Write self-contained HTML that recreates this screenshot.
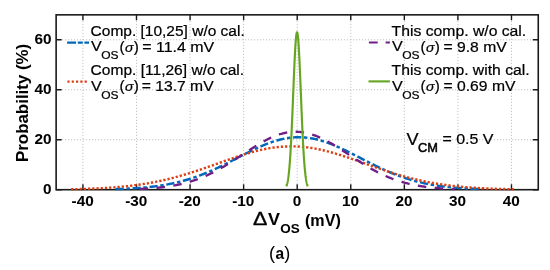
<!DOCTYPE html>
<html><head><meta charset="utf-8"><style>
html,body{margin:0;padding:0;background:#fff;}
svg{display:block;}
text{font-family:'Liberation Sans', Arial, sans-serif;fill:#000;stroke:#000;stroke-width:0.22px;}
text[font-weight="bold"]{stroke-width:0.05px;}
</style></head><body>
<svg width="550" height="270" viewBox="0 0 550 270">
<rect width="550" height="270" fill="#fff"/>
<path d="M82.92,14.84V189.70 M136.49,14.84V189.70 M190.06,14.84V189.70 M243.63,14.84V189.70 M297.20,14.84V189.70 M350.77,14.84V189.70 M404.34,14.84V189.70 M457.91,14.84V189.70 M511.48,14.84V189.70 M56.13,139.74H538.26 M56.13,89.78H538.26 M56.13,39.82H538.26" stroke="#b8b8b8" stroke-width="1" stroke-dasharray="1 2" fill="none"/>
<path d="M82.92,189.70v-5.5 M82.92,14.84v5.5 M136.49,189.70v-5.5 M136.49,14.84v5.5 M190.06,189.70v-5.5 M190.06,14.84v5.5 M243.63,189.70v-5.5 M243.63,14.84v5.5 M297.20,189.70v-5.5 M297.20,14.84v5.5 M350.77,189.70v-5.5 M350.77,14.84v5.5 M404.34,189.70v-5.5 M404.34,14.84v5.5 M457.91,189.70v-5.5 M457.91,14.84v5.5 M511.48,189.70v-5.5 M511.48,14.84v5.5 M56.13,189.70h5.5 M538.26,189.70h-5.5 M56.13,139.74h5.5 M538.26,139.74h-5.5 M56.13,89.78h5.5 M538.26,89.78h-5.5 M56.13,39.82h5.5 M538.26,39.82h-5.5" stroke="#1a1a1a" stroke-width="1.4" fill="none"/>
<rect x="56.13" y="14.84" width="482.13" height="174.86" stroke="#1a1a1a" stroke-width="1.6" fill="none"/>
<path d="M115.60,189.09 L116.51,189.07 L117.43,189.04 L118.35,189.01 L119.26,188.98 L120.18,188.94 L121.09,188.91 L122.01,188.88 L122.93,188.84 L123.84,188.80 L124.76,188.76 L125.67,188.72 L126.59,188.68 L127.51,188.64 L128.42,188.59 L129.34,188.55 L130.25,188.50 L131.17,188.45 L132.09,188.40 L133.00,188.34 L133.92,188.29 L134.83,188.23 L135.75,188.17 L136.67,188.11 L137.58,188.04 L138.50,187.98 L139.41,187.91 L140.33,187.84 L141.25,187.76 L142.16,187.69 L143.08,187.61 L144.00,187.53 L144.91,187.45 L145.83,187.36 L146.74,187.27 L147.66,187.18 L148.58,187.09 L149.49,186.99 L150.41,186.89 L151.32,186.79 L152.24,186.68 L153.16,186.57 L154.07,186.46 L154.99,186.34 L155.90,186.22 L156.82,186.10 L157.74,185.97 L158.65,185.84 L159.57,185.71 L160.48,185.57 L161.40,185.43 L162.32,185.29 L163.23,185.14 L164.15,184.99 L165.06,184.83 L165.98,184.67 L166.90,184.51 L167.81,184.34 L168.73,184.16 L169.64,183.99 L170.56,183.80 L171.48,183.62 L172.39,183.43 L173.31,183.23 L174.22,183.03 L175.14,182.83 L176.06,182.62 L176.97,182.40 L177.89,182.19 L178.80,181.96 L179.72,181.73 L180.64,181.50 L181.55,181.26 L182.47,181.02 L183.39,180.77 L184.30,180.52 L185.22,180.26 L186.13,179.99 L187.05,179.72 L187.97,179.45 L188.88,179.17 L189.80,178.89 L190.71,178.60 L191.63,178.30 L192.55,178.00 L193.46,177.70 L194.38,177.39 L195.29,177.07 L196.21,176.75 L197.13,176.42 L198.04,176.09 L198.96,175.76 L199.87,175.41 L200.79,175.07 L201.71,174.72 L202.62,174.36 L203.54,174.00 L204.45,173.63 L205.37,173.26 L206.29,172.88 L207.20,172.50 L208.12,172.12 L209.03,171.73 L209.95,171.33 L210.87,170.93 L211.78,170.53 L212.70,170.12 L213.61,169.71 L214.53,169.29 L215.45,168.87 L216.36,168.44 L217.28,168.01 L218.19,167.58 L219.11,167.15 L220.03,166.71 L220.94,166.26 L221.86,165.82 L222.78,165.37 L223.69,164.92 L224.61,164.46 L225.52,164.01 L226.44,163.55 L227.36,163.08 L228.27,162.62 L229.19,162.15 L230.10,161.69 L231.02,161.22 L231.94,160.75 L232.85,160.27 L233.77,159.80 L234.68,159.33 L235.60,158.85 L236.52,158.38 L237.43,157.90 L238.35,157.43 L239.26,156.95 L240.18,156.48 L241.10,156.00 L242.01,155.53 L242.93,155.06 L243.84,154.59 L244.76,154.12 L245.68,153.65 L246.59,153.19 L247.51,152.72 L248.42,152.26 L249.34,151.80 L250.26,151.35 L251.17,150.90 L252.09,150.45 L253.00,150.01 L253.92,149.56 L254.84,149.13 L255.75,148.70 L256.67,148.27 L257.58,147.85 L258.50,147.43 L259.42,147.02 L260.33,146.61 L261.25,146.21 L262.17,145.81 L263.08,145.43 L264.00,145.04 L264.91,144.67 L265.83,144.30 L266.75,143.94 L267.66,143.59 L268.58,143.24 L269.49,142.90 L270.41,142.57 L271.33,142.25 L272.24,141.94 L273.16,141.63 L274.07,141.34 L274.99,141.05 L275.91,140.77 L276.82,140.51 L277.74,140.25 L278.65,140.00 L279.57,139.76 L280.49,139.53 L281.40,139.31 L282.32,139.10 L283.23,138.91 L284.15,138.72 L285.07,138.54 L285.98,138.38 L286.90,138.22 L287.81,138.08 L288.73,137.95 L289.65,137.82 L290.56,137.71 L291.48,137.62 L292.39,137.53 L293.31,137.45 L294.23,137.39 L295.14,137.34 L296.06,137.29 L296.98,137.27 L297.89,137.25 L298.81,137.24 L299.72,137.25 L300.64,137.27 L301.56,137.29 L302.47,137.34 L303.39,137.39 L304.30,137.45 L305.22,137.53 L306.14,137.62 L307.05,137.71 L307.97,137.82 L308.88,137.95 L309.80,138.08 L310.72,138.22 L311.63,138.38 L312.55,138.54 L313.46,138.72 L314.38,138.91 L315.30,139.10 L316.21,139.31 L317.13,139.53 L318.04,139.76 L318.96,140.00 L319.88,140.25 L320.79,140.51 L321.71,140.77 L322.62,141.05 L323.54,141.34 L324.46,141.63 L325.37,141.94 L326.29,142.25 L327.20,142.57 L328.12,142.90 L329.04,143.24 L329.95,143.59 L330.87,143.94 L331.78,144.30 L332.70,144.67 L333.62,145.04 L334.53,145.43 L335.45,145.81 L336.37,146.21 L337.28,146.61 L338.20,147.02 L339.11,147.43 L340.03,147.85 L340.95,148.27 L341.86,148.70 L342.78,149.13 L343.69,149.56 L344.61,150.01 L345.53,150.45 L346.44,150.90 L347.36,151.35 L348.27,151.80 L349.19,152.26 L350.11,152.72 L351.02,153.19 L351.94,153.65 L352.85,154.12 L353.77,154.59 L354.69,155.06 L355.60,155.53 L356.52,156.00 L357.43,156.48 L358.35,156.95 L359.27,157.43 L360.18,157.90 L361.10,158.38 L362.01,158.85 L362.93,159.33 L363.85,159.80 L364.76,160.27 L365.68,160.75 L366.59,161.22 L367.51,161.69 L368.43,162.15 L369.34,162.62 L370.26,163.08 L371.17,163.55 L372.09,164.01 L373.01,164.46 L373.92,164.92 L374.84,165.37 L375.76,165.82 L376.67,166.26 L377.59,166.71 L378.50,167.15 L379.42,167.58 L380.34,168.01 L381.25,168.44 L382.17,168.87 L383.08,169.29 L384.00,169.71 L384.92,170.12 L385.83,170.53 L386.75,170.93 L387.66,171.33 L388.58,171.73 L389.50,172.12 L390.41,172.50 L391.33,172.88 L392.24,173.26 L393.16,173.63 L394.08,174.00 L394.99,174.36 L395.91,174.72 L396.82,175.07 L397.74,175.41 L398.66,175.76 L399.57,176.09 L400.49,176.42 L401.40,176.75 L402.32,177.07 L403.24,177.39 L404.15,177.70 L405.07,178.00 L405.98,178.30 L406.90,178.60 L407.82,178.89 L408.73,179.17 L409.65,179.45 L410.56,179.72 L411.48,179.99 L412.40,180.26 L413.31,180.52 L414.23,180.77 L415.15,181.02 L416.06,181.26 L416.98,181.50 L417.89,181.73 L418.81,181.96 L419.73,182.19 L420.64,182.40 L421.56,182.62 L422.47,182.83 L423.39,183.03 L424.31,183.23 L425.22,183.43 L426.14,183.62 L427.05,183.80 L427.97,183.99 L428.89,184.16 L429.80,184.34 L430.72,184.51 L431.63,184.67 L432.55,184.83 L433.47,184.99 L434.38,185.14 L435.30,185.29 L436.21,185.43 L437.13,185.57 L438.05,185.71 L438.96,185.84 L439.88,185.97 L440.79,186.10 L441.71,186.22 L442.63,186.34 L443.54,186.46 L444.46,186.57 L445.37,186.68 L446.29,186.79 L447.21,186.89 L448.12,186.99 L449.04,187.09 L449.95,187.18 L450.87,187.27 L451.79,187.36 L452.70,187.45 L453.62,187.53 L454.54,187.61 L455.45,187.69 L456.37,187.76 L457.28,187.84 L458.20,187.91 L459.12,187.98 L460.03,188.04 L460.95,188.11 L461.86,188.17 L462.78,188.23 L463.70,188.29 L464.61,188.34 L465.53,188.40 L466.44,188.45 L467.36,188.50 L468.28,188.55 L469.19,188.59 L470.11,188.64 L471.02,188.68 L471.94,188.72 L472.86,188.76 L473.77,188.80 L474.69,188.84 L475.60,188.88 L476.52,188.91 L477.44,188.94 L478.35,188.98 L479.27,189.01 L480.18,189.04 L481.10,189.07 L482.02,189.09" stroke="#0068BA" stroke-width="2.45" fill="none" stroke-dasharray="8.15 2.7 3.45 2.7" stroke-linecap="butt" stroke-linejoin="round"/>
<path d="M71.13,189.22 L72.24,189.20 L73.35,189.17 L74.46,189.15 L75.57,189.12 L76.68,189.10 L77.79,189.07 L78.90,189.04 L80.01,189.01 L81.12,188.98 L82.23,188.95 L83.34,188.92 L84.45,188.88 L85.56,188.85 L86.67,188.81 L87.78,188.77 L88.89,188.73 L90.00,188.69 L91.11,188.65 L92.22,188.61 L93.33,188.56 L94.44,188.51 L95.55,188.46 L96.65,188.41 L97.76,188.36 L98.87,188.31 L99.98,188.25 L101.09,188.19 L102.20,188.13 L103.31,188.07 L104.42,188.01 L105.53,187.94 L106.64,187.87 L107.75,187.80 L108.86,187.73 L109.97,187.65 L111.08,187.57 L112.19,187.49 L113.30,187.41 L114.41,187.33 L115.52,187.24 L116.63,187.15 L117.74,187.06 L118.85,186.96 L119.96,186.86 L121.07,186.76 L122.17,186.65 L123.28,186.55 L124.39,186.44 L125.50,186.32 L126.61,186.21 L127.72,186.09 L128.83,185.96 L129.94,185.84 L131.05,185.71 L132.16,185.57 L133.27,185.43 L134.38,185.29 L135.49,185.15 L136.60,185.00 L137.71,184.85 L138.82,184.69 L139.93,184.54 L141.04,184.37 L142.15,184.21 L143.26,184.03 L144.37,183.86 L145.48,183.68 L146.59,183.50 L147.69,183.31 L148.80,183.12 L149.91,182.93 L151.02,182.73 L152.13,182.52 L153.24,182.31 L154.35,182.10 L155.46,181.89 L156.57,181.66 L157.68,181.44 L158.79,181.21 L159.90,180.98 L161.01,180.74 L162.12,180.49 L163.23,180.25 L164.34,180.00 L165.45,179.74 L166.56,179.48 L167.67,179.21 L168.78,178.95 L169.89,178.67 L171.00,178.39 L172.11,178.11 L173.21,177.82 L174.32,177.53 L175.43,177.24 L176.54,176.94 L177.65,176.63 L178.76,176.33 L179.87,176.01 L180.98,175.70 L182.09,175.38 L183.20,175.05 L184.31,174.73 L185.42,174.39 L186.53,174.06 L187.64,173.72 L188.75,173.38 L189.86,173.03 L190.97,172.68 L192.08,172.32 L193.19,171.97 L194.30,171.61 L195.41,171.25 L196.52,170.88 L197.63,170.51 L198.73,170.14 L199.84,169.76 L200.95,169.39 L202.06,169.01 L203.17,168.63 L204.28,168.24 L205.39,167.86 L206.50,167.47 L207.61,167.08 L208.72,166.69 L209.83,166.30 L210.94,165.90 L212.05,165.51 L213.16,165.11 L214.27,164.72 L215.38,164.32 L216.49,163.92 L217.60,163.53 L218.71,163.13 L219.82,162.73 L220.93,162.34 L222.04,161.94 L223.15,161.54 L224.26,161.15 L225.36,160.75 L226.47,160.36 L227.58,159.97 L228.69,159.58 L229.80,159.19 L230.91,158.81 L232.02,158.43 L233.13,158.04 L234.24,157.67 L235.35,157.29 L236.46,156.92 L237.57,156.55 L238.68,156.19 L239.79,155.82 L240.90,155.47 L242.01,155.11 L243.12,154.76 L244.23,154.42 L245.34,154.08 L246.45,153.75 L247.56,153.42 L248.67,153.09 L249.78,152.77 L250.88,152.46 L251.99,152.15 L253.10,151.85 L254.21,151.56 L255.32,151.27 L256.43,150.99 L257.54,150.71 L258.65,150.44 L259.76,150.18 L260.87,149.93 L261.98,149.69 L263.09,149.45 L264.20,149.22 L265.31,149.00 L266.42,148.78 L267.53,148.58 L268.64,148.38 L269.75,148.19 L270.86,148.01 L271.97,147.84 L273.08,147.68 L274.19,147.52 L275.30,147.38 L276.40,147.24 L277.51,147.12 L278.62,147.00 L279.73,146.90 L280.84,146.80 L281.95,146.71 L283.06,146.63 L284.17,146.56 L285.28,146.51 L286.39,146.46 L287.50,146.42 L288.61,146.39 L289.72,146.37 L290.83,146.36 L291.94,146.36 L293.05,146.37 L294.16,146.39 L295.27,146.42 L296.38,146.46 L297.49,146.51 L298.60,146.57 L299.71,146.64 L300.82,146.72 L301.92,146.81 L303.03,146.91 L304.14,147.02 L305.25,147.14 L306.36,147.26 L307.47,147.40 L308.58,147.54 L309.69,147.70 L310.80,147.86 L311.91,148.03 L313.02,148.22 L314.13,148.41 L315.24,148.60 L316.35,148.81 L317.46,149.03 L318.57,149.25 L319.68,149.48 L320.79,149.72 L321.90,149.97 L323.01,150.22 L324.12,150.48 L325.23,150.75 L326.34,151.03 L327.44,151.31 L328.55,151.60 L329.66,151.89 L330.77,152.19 L331.88,152.50 L332.99,152.82 L334.10,153.14 L335.21,153.46 L336.32,153.79 L337.43,154.13 L338.54,154.47 L339.65,154.81 L340.76,155.16 L341.87,155.52 L342.98,155.87 L344.09,156.24 L345.20,156.60 L346.31,156.97 L347.42,157.34 L348.53,157.72 L349.64,158.10 L350.75,158.48 L351.86,158.86 L352.97,159.25 L354.07,159.64 L355.18,160.02 L356.29,160.42 L357.40,160.81 L358.51,161.20 L359.62,161.60 L360.73,161.99 L361.84,162.39 L362.95,162.79 L364.06,163.18 L365.17,163.58 L366.28,163.98 L367.39,164.38 L368.50,164.77 L369.61,165.17 L370.72,165.56 L371.83,165.96 L372.94,166.35 L374.05,166.74 L375.16,167.13 L376.27,167.52 L377.38,167.91 L378.49,168.30 L379.59,168.68 L380.70,169.06 L381.81,169.44 L382.92,169.82 L384.03,170.19 L385.14,170.56 L386.25,170.93 L387.36,171.30 L388.47,171.66 L389.58,172.02 L390.69,172.37 L391.80,172.73 L392.91,173.08 L394.02,173.42 L395.13,173.77 L396.24,174.10 L397.35,174.44 L398.46,174.77 L399.57,175.10 L400.68,175.42 L401.79,175.74 L402.90,176.06 L404.01,176.37 L405.11,176.68 L406.22,176.98 L407.33,177.28 L408.44,177.57 L409.55,177.86 L410.66,178.15 L411.77,178.43 L412.88,178.71 L413.99,178.98 L415.10,179.25 L416.21,179.52 L417.32,179.78 L418.43,180.03 L419.54,180.28 L420.65,180.53 L421.76,180.77 L422.87,181.01 L423.98,181.24 L425.09,181.47 L426.20,181.70 L427.31,181.92 L428.42,182.13 L429.53,182.34 L430.63,182.55 L431.74,182.75 L432.85,182.95 L433.96,183.15 L435.07,183.34 L436.18,183.52 L437.29,183.71 L438.40,183.88 L439.51,184.06 L440.62,184.23 L441.73,184.40 L442.84,184.56 L443.95,184.72 L445.06,184.87 L446.17,185.02 L447.28,185.17 L448.39,185.31 L449.50,185.45 L450.61,185.59 L451.72,185.72 L452.83,185.85 L453.94,185.98 L455.05,186.10 L456.15,186.22 L457.26,186.34 L458.37,186.45 L459.48,186.56 L460.59,186.67 L461.70,186.77 L462.81,186.87 L463.92,186.97 L465.03,187.07 L466.14,187.16 L467.25,187.25 L468.36,187.34 L469.47,187.42 L470.58,187.51 L471.69,187.59 L472.80,187.66 L473.91,187.74 L475.02,187.81 L476.13,187.88 L477.24,187.95 L478.35,188.02 L479.46,188.08 L480.57,188.14 L481.67,188.20 L482.78,188.26 L483.89,188.31 L485.00,188.37 L486.11,188.42 L487.22,188.47 L488.33,188.52 L489.44,188.57 L490.55,188.61 L491.66,188.66 L492.77,188.70 L493.88,188.74 L494.99,188.78 L496.10,188.82 L497.21,188.85 L498.32,188.89 L499.43,188.92 L500.54,188.96 L501.65,188.99 L502.76,189.02 L503.87,189.05 L504.98,189.07 L506.09,189.10 L507.20,189.13 L508.30,189.15 L509.41,189.18 L510.52,189.20 L511.63,189.22 L512.74,189.24 L513.85,189.26 L514.96,189.28" stroke="#DD3F14" stroke-width="2.4" fill="none" stroke-dasharray="2.25 1.97" stroke-linecap="butt" stroke-linejoin="round"/>
<path d="M139.70,188.93 L140.49,188.89 L141.28,188.86 L142.07,188.82 L142.85,188.78 L143.64,188.74 L144.43,188.70 L145.22,188.66 L146.00,188.61 L146.79,188.57 L147.58,188.52 L148.37,188.47 L149.15,188.42 L149.94,188.37 L150.73,188.31 L151.52,188.25 L152.30,188.19 L153.09,188.13 L153.88,188.07 L154.67,188.00 L155.45,187.93 L156.24,187.86 L157.03,187.79 L157.82,187.72 L158.60,187.64 L159.39,187.56 L160.18,187.47 L160.97,187.39 L161.75,187.30 L162.54,187.21 L163.33,187.11 L164.12,187.02 L164.90,186.92 L165.69,186.81 L166.48,186.71 L167.27,186.60 L168.05,186.48 L168.84,186.37 L169.63,186.25 L170.42,186.12 L171.20,186.00 L171.99,185.87 L172.78,185.73 L173.57,185.59 L174.35,185.45 L175.14,185.31 L175.93,185.15 L176.72,185.00 L177.50,184.84 L178.29,184.68 L179.08,184.51 L179.87,184.34 L180.65,184.16 L181.44,183.98 L182.23,183.80 L183.02,183.61 L183.80,183.42 L184.59,183.22 L185.38,183.01 L186.17,182.80 L186.95,182.59 L187.74,182.37 L188.53,182.15 L189.32,181.92 L190.10,181.68 L190.89,181.44 L191.68,181.20 L192.47,180.95 L193.25,180.70 L194.04,180.43 L194.83,180.17 L195.62,179.90 L196.40,179.62 L197.19,179.34 L197.98,179.05 L198.77,178.75 L199.55,178.45 L200.34,178.15 L201.13,177.84 L201.92,177.52 L202.70,177.20 L203.49,176.87 L204.28,176.54 L205.06,176.20 L205.85,175.85 L206.64,175.50 L207.43,175.15 L208.21,174.78 L209.00,174.42 L209.79,174.04 L210.58,173.66 L211.36,173.28 L212.15,172.89 L212.94,172.49 L213.73,172.09 L214.51,171.69 L215.30,171.28 L216.09,170.86 L216.88,170.44 L217.66,170.01 L218.45,169.58 L219.24,169.14 L220.03,168.70 L220.81,168.25 L221.60,167.80 L222.39,167.35 L223.18,166.89 L223.96,166.42 L224.75,165.95 L225.54,165.48 L226.33,165.00 L227.11,164.52 L227.90,164.04 L228.69,163.55 L229.48,163.06 L230.26,162.56 L231.05,162.06 L231.84,161.56 L232.63,161.06 L233.41,160.55 L234.20,160.04 L234.99,159.53 L235.78,159.02 L236.56,158.51 L237.35,157.99 L238.14,157.47 L238.93,156.95 L239.71,156.43 L240.50,155.91 L241.29,155.39 L242.08,154.87 L242.86,154.35 L243.65,153.83 L244.44,153.30 L245.23,152.78 L246.01,152.26 L246.80,151.74 L247.59,151.23 L248.38,150.71 L249.16,150.19 L249.95,149.68 L250.74,149.17 L251.53,148.66 L252.31,148.16 L253.10,147.66 L253.89,147.16 L254.68,146.66 L255.46,146.17 L256.25,145.69 L257.04,145.20 L257.83,144.73 L258.61,144.25 L259.40,143.79 L260.19,143.32 L260.98,142.87 L261.76,142.41 L262.55,141.97 L263.34,141.53 L264.13,141.10 L264.91,140.68 L265.70,140.26 L266.49,139.85 L267.28,139.45 L268.06,139.05 L268.85,138.66 L269.64,138.29 L270.43,137.92 L271.21,137.56 L272.00,137.21 L272.79,136.86 L273.58,136.53 L274.36,136.21 L275.15,135.90 L275.94,135.59 L276.73,135.30 L277.51,135.02 L278.30,134.75 L279.09,134.49 L279.88,134.24 L280.66,134.00 L281.45,133.77 L282.24,133.56 L283.03,133.35 L283.81,133.16 L284.60,132.98 L285.39,132.81 L286.18,132.65 L286.96,132.51 L287.75,132.38 L288.54,132.26 L289.33,132.15 L290.11,132.05 L290.90,131.97 L291.69,131.90 L292.48,131.85 L293.26,131.80 L294.05,131.77 L294.84,131.75 L295.63,131.75 L296.41,131.75 L297.20,131.77 L297.99,131.81 L298.77,131.85 L299.56,131.91 L300.35,131.98 L301.14,132.06 L301.92,132.16 L302.71,132.27 L303.50,132.39 L304.29,132.52 L305.07,132.67 L305.86,132.82 L306.65,132.99 L307.44,133.17 L308.22,133.37 L309.01,133.57 L309.80,133.79 L310.59,134.02 L311.37,134.26 L312.16,134.51 L312.95,134.77 L313.74,135.04 L314.52,135.32 L315.31,135.62 L316.10,135.92 L316.89,136.23 L317.67,136.56 L318.46,136.89 L319.25,137.23 L320.04,137.59 L320.82,137.95 L321.61,138.32 L322.40,138.70 L323.19,139.08 L323.97,139.48 L324.76,139.88 L325.55,140.29 L326.34,140.71 L327.12,141.14 L327.91,141.57 L328.70,142.01 L329.49,142.45 L330.27,142.90 L331.06,143.36 L331.85,143.82 L332.64,144.29 L333.42,144.76 L334.21,145.24 L335.00,145.73 L335.79,146.21 L336.57,146.70 L337.36,147.20 L338.15,147.70 L338.94,148.20 L339.72,148.71 L340.51,149.21 L341.30,149.72 L342.09,150.24 L342.87,150.75 L343.66,151.27 L344.45,151.79 L345.24,152.30 L346.02,152.83 L346.81,153.35 L347.60,153.87 L348.39,154.39 L349.17,154.91 L349.96,155.43 L350.75,155.95 L351.54,156.48 L352.32,157.00 L353.11,157.51 L353.90,158.03 L354.69,158.55 L355.47,159.06 L356.26,159.58 L357.05,160.09 L357.84,160.59 L358.62,161.10 L359.41,161.60 L360.20,162.10 L360.99,162.60 L361.77,163.10 L362.56,163.59 L363.35,164.08 L364.14,164.56 L364.92,165.04 L365.71,165.52 L366.50,165.99 L367.29,166.46 L368.07,166.92 L368.86,167.38 L369.65,167.84 L370.44,168.29 L371.22,168.74 L372.01,169.18 L372.80,169.61 L373.59,170.05 L374.37,170.47 L375.16,170.89 L375.95,171.31 L376.74,171.72 L377.52,172.13 L378.31,172.53 L379.10,172.92 L379.89,173.31 L380.67,173.70 L381.46,174.07 L382.25,174.45 L383.04,174.81 L383.82,175.18 L384.61,175.53 L385.40,175.88 L386.19,176.23 L386.97,176.57 L387.76,176.90 L388.55,177.23 L389.34,177.55 L390.12,177.86 L390.91,178.17 L391.70,178.48 L392.48,178.78 L393.27,179.07 L394.06,179.36 L394.85,179.64 L395.63,179.92 L396.42,180.19 L397.21,180.46 L398.00,180.72 L398.78,180.97 L399.57,181.22 L400.36,181.46 L401.15,181.70 L401.93,181.94 L402.72,182.17 L403.51,182.39 L404.30,182.61 L405.08,182.82 L405.87,183.03 L406.66,183.23 L407.45,183.43 L408.23,183.63 L409.02,183.81 L409.81,184.00 L410.60,184.18 L411.38,184.35 L412.17,184.53 L412.96,184.69 L413.75,184.86 L414.53,185.01 L415.32,185.17 L416.11,185.32 L416.90,185.46 L417.68,185.61 L418.47,185.74 L419.26,185.88 L420.05,186.01 L420.83,186.13 L421.62,186.26 L422.41,186.38 L423.20,186.49 L423.98,186.61 L424.77,186.72 L425.56,186.82 L426.35,186.93 L427.13,187.03 L427.92,187.12 L428.71,187.22 L429.50,187.31 L430.28,187.40 L431.07,187.48 L431.86,187.56 L432.65,187.64 L433.43,187.72 L434.22,187.80 L435.01,187.87 L435.80,187.94 L436.58,188.01 L437.37,188.07 L438.16,188.14 L438.95,188.20 L439.73,188.26 L440.52,188.31 L441.31,188.37 L442.10,188.42 L442.88,188.47 L443.67,188.52 L444.46,188.57 L445.25,188.62 L446.03,188.66 L446.82,188.71 L447.61,188.75 L448.40,188.79 L449.18,188.83 L449.97,188.86 L450.76,188.90 L451.55,188.93 L452.33,188.96 L453.12,189.00 L453.91,189.03 L454.70,189.06" stroke="#701F87" stroke-width="2.35" fill="none" stroke-dasharray="8.45 8.45" stroke-linecap="butt" stroke-linejoin="round"/>
<path d="M286.33,186.38 L286.38,186.25 L286.43,186.11 L286.49,185.97 L286.54,185.83 L286.59,185.68 L286.65,185.53 L286.70,185.37 L286.75,185.20 L286.81,185.04 L286.86,184.86 L286.91,184.68 L286.97,184.49 L287.02,184.30 L287.08,184.11 L287.13,183.90 L287.18,183.69 L287.24,183.47 L287.29,183.25 L287.34,183.02 L287.40,182.79 L287.45,182.54 L287.50,182.29 L287.56,182.03 L287.61,181.77 L287.66,181.49 L287.72,181.21 L287.77,180.92 L287.83,180.63 L287.88,180.32 L287.93,180.01 L287.99,179.69 L288.04,179.36 L288.09,179.02 L288.15,178.67 L288.20,178.31 L288.25,177.94 L288.31,177.57 L288.36,177.18 L288.41,176.78 L288.47,176.38 L288.52,175.96 L288.58,175.53 L288.63,175.10 L288.68,174.65 L288.74,174.19 L288.79,173.72 L288.84,173.24 L288.90,172.75 L288.95,172.25 L289.00,171.73 L289.06,171.21 L289.11,170.67 L289.16,170.12 L289.22,169.56 L289.27,168.99 L289.33,168.40 L289.38,167.80 L289.43,167.19 L289.49,166.57 L289.54,165.94 L289.59,165.29 L289.65,164.63 L289.70,163.95 L289.75,163.27 L289.81,162.57 L289.86,161.85 L289.91,161.13 L289.97,160.39 L290.02,159.63 L290.08,158.87 L290.13,158.09 L290.18,157.29 L290.24,156.49 L290.29,155.67 L290.34,154.83 L290.40,153.98 L290.45,153.12 L290.50,152.25 L290.56,151.36 L290.61,150.46 L290.66,149.54 L290.72,148.61 L290.77,147.67 L290.83,146.72 L290.88,145.75 L290.93,144.77 L290.99,143.77 L291.04,142.77 L291.09,141.75 L291.15,140.71 L291.20,139.67 L291.25,138.61 L291.31,137.54 L291.36,136.45 L291.41,135.36 L291.47,134.25 L291.52,133.14 L291.58,132.01 L291.63,130.87 L291.68,129.71 L291.74,128.55 L291.79,127.38 L291.84,126.19 L291.90,125.00 L291.95,123.80 L292.00,122.59 L292.06,121.36 L292.11,120.13 L292.16,118.90 L292.22,117.65 L292.27,116.39 L292.33,115.13 L292.38,113.86 L292.43,112.59 L292.49,111.30 L292.54,110.02 L292.59,108.72 L292.65,107.42 L292.70,106.12 L292.75,104.81 L292.81,103.50 L292.86,102.18 L292.91,100.87 L292.97,99.55 L293.02,98.22 L293.08,96.90 L293.13,95.57 L293.18,94.25 L293.24,92.92 L293.29,91.60 L293.34,90.27 L293.40,88.95 L293.45,87.63 L293.50,86.31 L293.56,85.00 L293.61,83.69 L293.66,82.38 L293.72,81.08 L293.77,79.78 L293.83,78.49 L293.88,77.21 L293.93,75.93 L293.99,74.66 L294.04,73.40 L294.09,72.15 L294.15,70.91 L294.20,69.68 L294.25,68.45 L294.31,67.24 L294.36,66.04 L294.41,64.86 L294.47,63.68 L294.52,62.52 L294.58,61.38 L294.63,60.25 L294.68,59.13 L294.74,58.03 L294.79,56.95 L294.84,55.88 L294.90,54.83 L294.95,53.80 L295.00,52.79 L295.06,51.79 L295.11,50.82 L295.16,49.86 L295.22,48.93 L295.27,48.02 L295.33,47.13 L295.38,46.26 L295.43,45.41 L295.49,44.59 L295.54,43.79 L295.59,43.01 L295.65,42.26 L295.70,41.53 L295.75,40.83 L295.81,40.15 L295.86,39.50 L295.91,38.88 L295.97,38.28 L296.02,37.71 L296.08,37.17 L296.13,36.65 L296.18,36.16 L296.24,35.70 L296.29,35.27 L296.34,34.87 L296.40,34.50 L296.45,34.15 L296.50,33.84 L296.56,33.55 L296.61,33.29 L296.66,33.07 L296.72,32.87 L296.77,32.71 L296.83,32.57 L296.88,32.46 L296.93,32.39 L296.99,32.34 L297.04,32.33 L297.09,32.34 L297.15,32.39 L297.20,32.46 L297.25,32.57 L297.31,32.71 L297.36,32.87 L297.41,33.07 L297.47,33.29 L297.52,33.55 L297.57,33.84 L297.63,34.15 L297.68,34.50 L297.74,34.87 L297.79,35.27 L297.84,35.70 L297.90,36.16 L297.95,36.65 L298.00,37.17 L298.06,37.71 L298.11,38.28 L298.16,38.88 L298.22,39.50 L298.27,40.15 L298.32,40.83 L298.38,41.53 L298.43,42.26 L298.49,43.01 L298.54,43.79 L298.59,44.59 L298.65,45.41 L298.70,46.26 L298.75,47.13 L298.81,48.02 L298.86,48.93 L298.91,49.86 L298.97,50.82 L299.02,51.79 L299.07,52.79 L299.13,53.80 L299.18,54.83 L299.24,55.88 L299.29,56.95 L299.34,58.03 L299.40,59.13 L299.45,60.25 L299.50,61.38 L299.56,62.52 L299.61,63.68 L299.66,64.86 L299.72,66.04 L299.77,67.24 L299.82,68.45 L299.88,69.68 L299.93,70.91 L299.99,72.15 L300.04,73.40 L300.09,74.66 L300.15,75.93 L300.20,77.21 L300.25,78.49 L300.31,79.78 L300.36,81.08 L300.41,82.38 L300.47,83.69 L300.52,85.00 L300.57,86.31 L300.63,87.63 L300.68,88.95 L300.74,90.27 L300.79,91.60 L300.84,92.92 L300.90,94.25 L300.95,95.57 L301.00,96.90 L301.06,98.22 L301.11,99.55 L301.16,100.87 L301.22,102.18 L301.27,103.50 L301.32,104.81 L301.38,106.12 L301.43,107.42 L301.49,108.72 L301.54,110.02 L301.59,111.30 L301.65,112.59 L301.70,113.86 L301.75,115.13 L301.81,116.39 L301.86,117.65 L301.91,118.90 L301.97,120.13 L302.02,121.36 L302.07,122.59 L302.13,123.80 L302.18,125.00 L302.24,126.19 L302.29,127.38 L302.34,128.55 L302.40,129.71 L302.45,130.87 L302.50,132.01 L302.56,133.14 L302.61,134.25 L302.66,135.36 L302.72,136.45 L302.77,137.54 L302.82,138.61 L302.88,139.67 L302.93,140.71 L302.99,141.75 L303.04,142.77 L303.09,143.77 L303.15,144.77 L303.20,145.75 L303.25,146.72 L303.31,147.67 L303.36,148.61 L303.41,149.54 L303.47,150.46 L303.52,151.36 L303.57,152.25 L303.63,153.12 L303.68,153.98 L303.74,154.83 L303.79,155.67 L303.84,156.49 L303.90,157.29 L303.95,158.09 L304.00,158.87 L304.06,159.63 L304.11,160.39 L304.16,161.13 L304.22,161.85 L304.27,162.57 L304.32,163.27 L304.38,163.95 L304.43,164.63 L304.49,165.29 L304.54,165.94 L304.59,166.57 L304.65,167.19 L304.70,167.80 L304.75,168.40 L304.81,168.99 L304.86,169.56 L304.91,170.12 L304.97,170.67 L305.02,171.21 L305.07,171.73 L305.13,172.25 L305.18,172.75 L305.24,173.24 L305.29,173.72 L305.34,174.19 L305.40,174.65 L305.45,175.10 L305.50,175.53 L305.56,175.96 L305.61,176.38 L305.66,176.78 L305.72,177.18 L305.77,177.57 L305.82,177.94 L305.88,178.31 L305.93,178.67 L305.99,179.02 L306.04,179.36 L306.09,179.69 L306.15,180.01 L306.20,180.32 L306.25,180.63 L306.31,180.92 L306.36,181.21 L306.41,181.49 L306.47,181.77 L306.52,182.03 L306.57,182.29 L306.63,182.54 L306.68,182.79 L306.74,183.02 L306.79,183.25 L306.84,183.47 L306.90,183.69 L306.95,183.90 L307.00,184.11 L307.06,184.30 L307.11,184.49 L307.16,184.68 L307.22,184.86 L307.27,185.04 L307.32,185.20 L307.38,185.37 L307.43,185.53 L307.49,185.68 L307.54,185.83 L307.59,185.97 L307.65,186.11 L307.70,186.25 L307.75,186.38" stroke="#66A51F" stroke-width="2.15" fill="none" stroke-linecap="butt" stroke-linejoin="round"/>
<text x="82.62" y="206.30" font-size="15.3" font-weight="bold" text-anchor="middle">-40</text>
<text x="136.19" y="206.30" font-size="15.3" font-weight="bold" text-anchor="middle">-30</text>
<text x="189.76" y="206.30" font-size="15.3" font-weight="bold" text-anchor="middle">-20</text>
<text x="243.33" y="206.30" font-size="15.3" font-weight="bold" text-anchor="middle">-10</text>
<text x="296.90" y="206.30" font-size="15.3" font-weight="bold" text-anchor="middle">0</text>
<text x="350.47" y="206.30" font-size="15.3" font-weight="bold" text-anchor="middle">10</text>
<text x="404.04" y="206.30" font-size="15.3" font-weight="bold" text-anchor="middle">20</text>
<text x="457.61" y="206.30" font-size="15.3" font-weight="bold" text-anchor="middle">30</text>
<text x="511.18" y="206.30" font-size="15.3" font-weight="bold" text-anchor="middle">40</text>
<text x="51.40" y="193.70" font-size="15.3" font-weight="bold" text-anchor="end">0</text>
<text x="51.40" y="143.74" font-size="15.3" font-weight="bold" text-anchor="end">20</text>
<text x="51.40" y="93.78" font-size="15.3" font-weight="bold" text-anchor="end">40</text>
<text x="51.40" y="43.82" font-size="15.3" font-weight="bold" text-anchor="end">60</text>
<text transform="translate(28.3,162.0) rotate(-90)" font-size="16.9" font-weight="bold">Probability (%)</text>
<text transform="translate(252.90,225.20) scale(1.22,1)" font-size="17.6" font-family="'Liberation Serif', 'Times New Roman', serif" style="stroke-width:0.35px">Δ</text>
<text transform="translate(267.90,224.80) scale(1.12,1)" font-size="16" font-weight="bold">V</text>
<text transform="translate(280.20,232.80) scale(1.02,1)" font-size="13.2" font-weight="bold">OS</text>
<text transform="translate(305.00,225.60) scale(1.02,1)" font-size="15.8" font-weight="bold">(mV)</text>
<text x="269.00" y="259.20" font-size="18.2" font-family="'Liberation Serif', 'Times New Roman', serif" style="stroke-width:0">(</text>
<text transform="translate(275.40,259.10) scale(0.93,1)" font-size="16.6" font-weight="bold" font-family="'Liberation Serif', 'Times New Roman', serif">a</text>
<text x="284.20" y="259.20" font-size="18.2" font-family="'Liberation Serif', 'Times New Roman', serif" style="stroke-width:0">)</text>
<text transform="translate(90.60,35.50) scale(1.048,1)" font-size="14.8">Comp. [10,25] w/o cal.</text>
<text transform="translate(90.90,51.30) scale(1.045,1)" font-size="15.4">V</text>
<text transform="translate(101.20,59.00) scale(1.045,1)" font-size="11.5">OS</text>
<text transform="translate(119.50,51.50) scale(1.045,1)" font-size="14.6">(</text>
<text transform="translate(124.90,51.80) scale(1.06,1)" font-size="13.2" font-family="'Liberation Serif', 'Times New Roman', serif" font-style="italic">σ</text>
<text transform="translate(133.80,51.50) scale(1.045,1)" font-size="14.6">)</text>
<text transform="translate(142.20,51.70) scale(1.08,1)" font-size="14.8">= 11.4 mV</text>
<text transform="translate(90.60,75.10) scale(1.051,1)" font-size="14.8">Comp. [11,26] w/o cal.</text>
<text transform="translate(90.90,90.90) scale(1.045,1)" font-size="15.4">V</text>
<text transform="translate(101.20,98.60) scale(1.045,1)" font-size="11.5">OS</text>
<text transform="translate(119.50,91.10) scale(1.045,1)" font-size="14.6">(</text>
<text transform="translate(124.90,91.40) scale(1.06,1)" font-size="13.2" font-family="'Liberation Serif', 'Times New Roman', serif" font-style="italic">σ</text>
<text transform="translate(133.80,91.10) scale(1.045,1)" font-size="14.6">)</text>
<text transform="translate(141.70,91.30) scale(1.06,1)" font-size="14.8">= 13.7 mV</text>
<text transform="translate(391.60,35.50) scale(1.064,1)" font-size="14.8">This comp. w/o cal.</text>
<text transform="translate(391.90,51.30) scale(1.045,1)" font-size="15.4">V</text>
<text transform="translate(402.20,59.00) scale(1.045,1)" font-size="11.5">OS</text>
<text transform="translate(420.50,51.50) scale(1.045,1)" font-size="14.6">(</text>
<text transform="translate(425.90,51.80) scale(1.06,1)" font-size="13.2" font-family="'Liberation Serif', 'Times New Roman', serif" font-style="italic">σ</text>
<text transform="translate(434.80,51.50) scale(1.045,1)" font-size="14.6">)</text>
<text transform="translate(443.50,51.70) scale(1.06,1)" font-size="14.8">= 9.8 mV</text>
<text transform="translate(391.60,75.10) scale(1.063,1)" font-size="14.8">This comp. with cal.</text>
<text transform="translate(391.90,90.90) scale(1.045,1)" font-size="15.4">V</text>
<text transform="translate(402.20,98.60) scale(1.045,1)" font-size="11.5">OS</text>
<text transform="translate(420.50,91.10) scale(1.045,1)" font-size="14.6">(</text>
<text transform="translate(425.90,91.40) scale(1.06,1)" font-size="13.2" font-family="'Liberation Serif', 'Times New Roman', serif" font-style="italic">σ</text>
<text transform="translate(434.80,91.10) scale(1.045,1)" font-size="14.6">)</text>
<text transform="translate(443.50,91.30) scale(1.06,1)" font-size="14.8">= 0.69 mV</text>
<path d="M67.1,42.7H76.1 M77.8,42.7H82.8 M84.4,42.7H89.05" stroke="#0068BA" stroke-width="2.3"/>
<path d="M67.4,81.7H87.6" stroke="#DD3F14" stroke-width="2.3" stroke-dasharray="2.2 2.1"/>
<path d="M368.9,42.5H377.7 M385.6,42.5H389.9" stroke="#701F87" stroke-width="2.1"/>
<path d="M368.5,81.4H389.9" stroke="#66A51F" stroke-width="2.1"/>
<text transform="translate(406.40,144.50) scale(1.1,1)" font-size="16.5">V</text>
<text x="418.00" y="152.30" font-size="12.8" style="stroke-width:0.5px">CM</text>
<text transform="translate(442.40,144.00) scale(1.1,1)" font-size="14.5">= 0.5 V</text>
</svg>
</body></html>
